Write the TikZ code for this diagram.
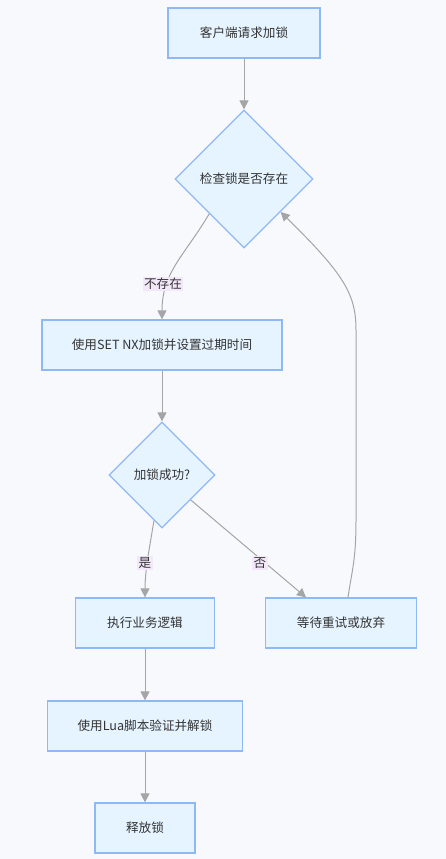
\documentclass[tikz,border=0pt]{standalone}
\usepackage{fontspec}
\setmainfont{Noto Sans CJK SC}
\usetikzlibrary{shapes.geometric,arrows.meta}
\definecolor{bg}{RGB}{248,249,252}
\definecolor{nodefill}{RGB}{230,244,255}
\definecolor{nodedraw}{RGB}{143,184,246}
\definecolor{edgecol}{RGB}{165,165,165}
\definecolor{lblbg}{RGB}{243,232,250}
\definecolor{txt}{RGB}{51,51,51}
\begin{document}
\begin{tikzpicture}[x=1pt,y=-1pt,
  every node/.style={font=\fontsize{12.6}{15}\selectfont, text=txt},
  box/.style={draw=nodedraw, fill=nodefill, line width=1.2pt, minimum height=50pt, inner sep=0pt},
  dec/.style={diamond, aspect=1, draw=nodedraw, fill=nodefill, line width=1.2pt, inner sep=0pt},
  conn/.style={draw=edgecol, line width=1pt, -{Triangle[length=9pt,width=9pt]}},
  lbl/.style={fill=lblbg, inner sep=1.5pt}]
\fill[bg] (0,0) rectangle (446,859);
\useasboundingbox (0,0) rectangle (446,859);

\node[box, minimum width=152pt] (a) at (244,33) {客户端请求加锁};
\node[dec, minimum size=138pt] (d1) at (244,179) {检查锁是否存在};
\node[box, minimum width=240pt] (s) at (162,345) {使用SET NX加锁并设置过期时间};
\node[dec, minimum size=106pt] (d2) at (162,475) {加锁成功?};
\node[box, minimum width=139pt] (e) at (145,623) {执行业务逻辑};
\node[box, minimum width=151pt] (w) at (341,623) {等待重试或放弃};
\node[box, minimum width=195pt] (l) at (145,726) {使用Lua脚本验证并解锁};
\node[box, minimum width=100pt] (r) at (145,828) {释放锁};

\draw[conn] (a) -- (d1);
\draw[conn] (d1.south west) .. controls (185,255) and (162,272) .. (s.north);
\node[lbl] (l1) at (163,284) {不存在};
\draw[conn] (s) -- (d2);
\draw[conn] (d2.260) .. controls (150,545) and (145,570) .. (e.north);
\node[lbl] (l2) at (145,563) {是};
\draw[conn] (d2.-41) -- ([xshift=-35pt]w.north);
\node[lbl] (l3) at (260,563) {否};
\draw[conn] ([xshift=7pt]w.north) .. controls (352,570) and (356,560) .. (356,520) -- (356,330) .. controls (356,295) and (345,275) .. (d1.-42);
\draw[conn] (e) -- (l);
\draw[conn] (l) -- (r);
\end{tikzpicture}
\end{document}
